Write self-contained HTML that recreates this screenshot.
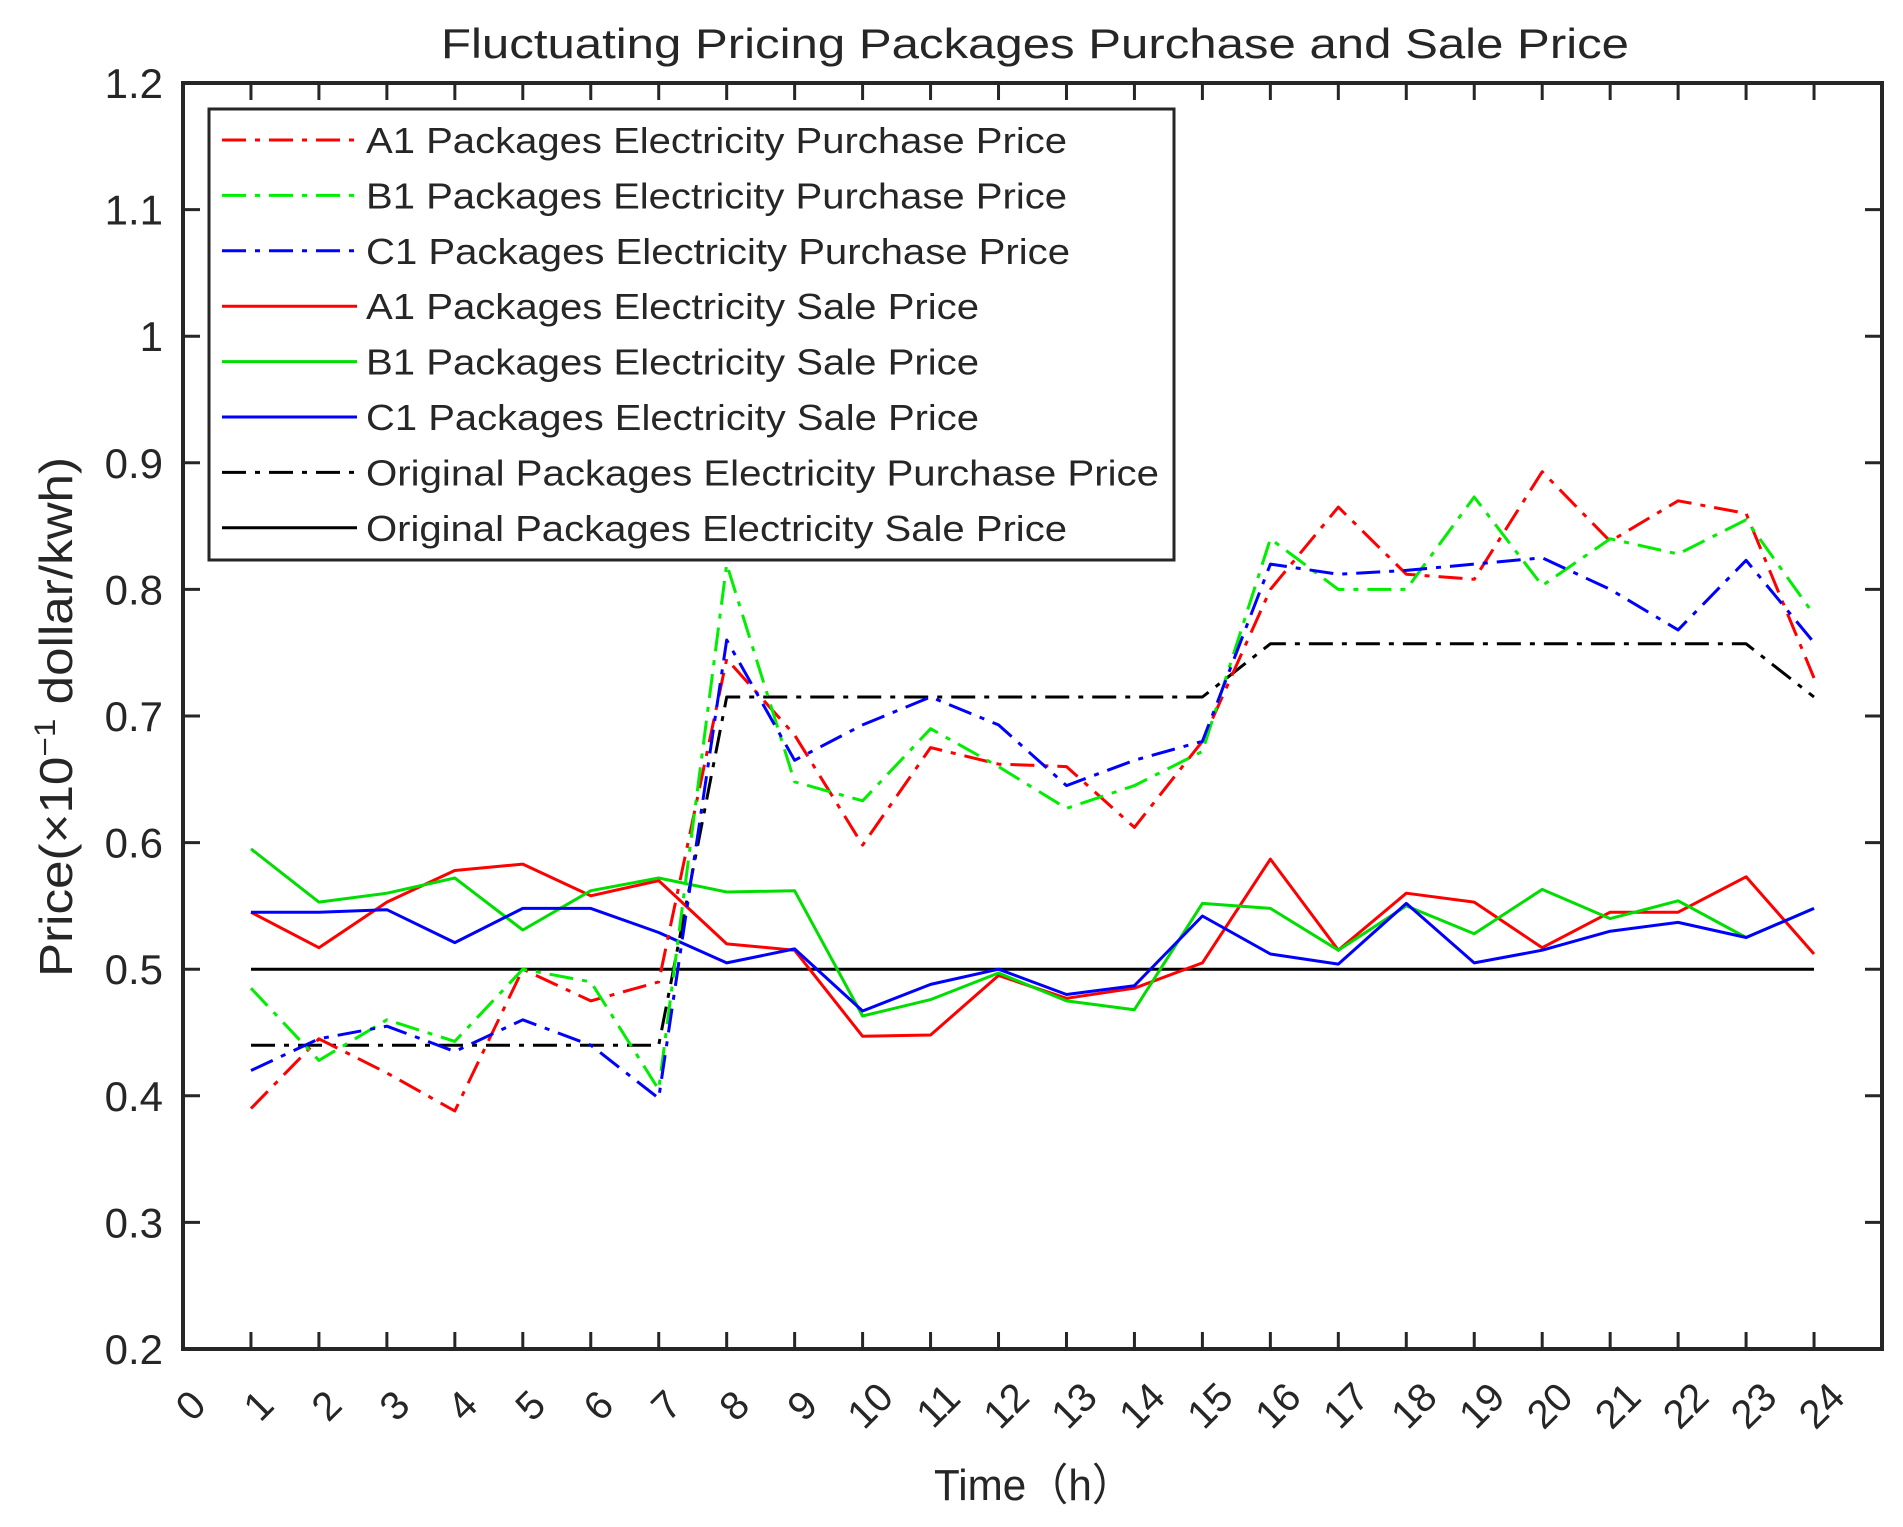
<!DOCTYPE html>
<html><head><meta charset="utf-8">
<style>
html,body{margin:0;padding:0;background:#fff;}
svg{display:block;}
text{font-family:"Liberation Sans","Noto Sans CJK SC",sans-serif;fill:#262626;}
</style></head>
<body>
<svg id="s" width="1903" height="1527" viewBox="0 0 1903 1527" xmlns="http://www.w3.org/2000/svg">
<rect width="1903" height="1527" fill="#fff"/>
<text x="1035" y="58" font-size="42" text-anchor="middle" textLength="1188" lengthAdjust="spacingAndGlyphs">Fluctuating Pricing Packages Purchase and Sale Price</text>
<g id="plot"></g>
<rect x="183" y="83" width="1699" height="1266" fill="none" stroke="#262626" stroke-width="4"/>
<text transform="translate(72,717) rotate(-90)" font-size="46" text-anchor="middle" textLength="520" lengthAdjust="spacingAndGlyphs">Price(×10<tspan font-size="30" dy="-17">−1</tspan><tspan dy="17"> dollar/kwh)</tspan></text>
<text x="1034" y="1500" font-size="44" text-anchor="middle" textLength="200" lengthAdjust="spacingAndGlyphs">Time（h）</text>
<g id="leg"></g>
</svg>
<script>
const NS="http://www.w3.org/2000/svg";
const L=183,R=1882,T=83,B=1349;
const X=h=>L+h*(R-L)/25, Y=v=>B-(v-0.2)*(B-T)/1.0;
function el(tag,attrs,parent,txt){const e=document.createElementNS(NS,tag);for(const k in attrs)e.setAttribute(k,attrs[k]);if(txt!==undefined)e.textContent=txt;parent.appendChild(e);return e;}
const plot=document.getElementById('plot');
for(let h=0;h<=24;h++){
  const x=X(h);
  el('line',{x1:x,x2:x,y1:B,y2:B-17,stroke:'#262626','stroke-width':3},plot);
  el('line',{x1:x,x2:x,y1:T,y2:T+17,stroke:'#262626','stroke-width':3},plot);
  const cx=x+8,cy=1406;
  el('text',{x:cx,y:cy,'font-size':40,'text-anchor':'middle','dominant-baseline':'central',transform:`rotate(-45 ${cx} ${cy})`},plot,String(h));
}
for(let i=0;i<=10;i++){
  const v=0.2+i*0.1,y=Y(v);
  el('line',{x1:L,x2:L+17,y1:y,y2:y,stroke:'#262626','stroke-width':3},plot);
  el('line',{x1:R,x2:R-17,y1:y,y2:y,stroke:'#262626','stroke-width':3},plot);
  let lab=(Math.round(v*10)/10).toString();
  el('text',{x:163,y:y+15,'font-size':42,'text-anchor':'end'},plot,lab);
}
const DD='24,9,5,9';
const series=[
 {c:'#ff0000',d:DD,v:[0.39,0.445,0.418,0.388,0.50,0.475,0.49,0.745,0.685,0.598,0.675,0.662,0.66,0.612,0.68,0.80,0.865,0.812,0.808,0.893,0.838,0.87,0.86,0.73]},
 {c:'#00ee00',d:DD,v:[0.485,0.428,0.46,0.443,0.50,0.49,0.405,0.82,0.648,0.633,0.69,0.66,0.627,0.645,0.672,0.84,0.80,0.80,0.873,0.803,0.84,0.828,0.855,0.78]},
 {c:'#0000ff',d:DD,v:[0.42,0.445,0.455,0.435,0.46,0.44,0.398,0.76,0.665,0.693,0.715,0.693,0.645,0.665,0.68,0.82,0.812,0.815,0.82,0.825,0.80,0.768,0.823,0.758]},
 {c:'#ff0000',d:'',v:[0.545,0.517,0.553,0.578,0.583,0.558,0.57,0.52,0.515,0.447,0.448,0.495,0.477,0.485,0.505,0.587,0.515,0.56,0.553,0.517,0.545,0.545,0.573,0.512]},
 {c:'#00dd00',d:'',v:[0.595,0.553,0.56,0.572,0.531,0.562,0.572,0.561,0.562,0.463,0.476,0.497,0.475,0.468,0.552,0.548,0.515,0.55,0.528,0.563,0.54,0.554,0.525,0.548]},
 {c:'#0000ff',d:'',v:[0.545,0.545,0.547,0.521,0.548,0.548,0.529,0.505,0.516,0.467,0.488,0.50,0.48,0.487,0.542,0.512,0.504,0.552,0.505,0.515,0.53,0.537,0.525,0.548]},
 {c:'#000000',d:DD,v:[0.44,0.44,0.44,0.44,0.44,0.44,0.44,0.715,0.715,0.715,0.715,0.715,0.715,0.715,0.715,0.757,0.757,0.757,0.757,0.757,0.757,0.757,0.757,0.715]},
 {c:'#000000',d:'',v:Array(24).fill(0.5)}
];
const order=[7,6,3,4,5,0,1,2];
for(const i of order){const s=series[i];
  const pts=s.v.map((v,k)=>X(k+1).toFixed(1)+','+Y(v).toFixed(1)).join(' ');
  const a={points:pts,fill:'none',stroke:s.c,'stroke-width':3,'stroke-linejoin':'round'};
  if(s.d)a['stroke-dasharray']=s.d;
  el('polyline',a,plot);
}
const leg=document.getElementById('leg');
el('rect',{x:209,y:109,width:965,height:451,fill:'#fff',stroke:'#262626','stroke-width':3},leg);
const names=['A1 Packages Electricity Purchase Price','B1 Packages Electricity Purchase Price','C1 Packages Electricity Purchase Price','A1 Packages Electricity Sale Price','B1 Packages Electricity Sale Price','C1 Packages Electricity Sale Price','Original Packages Electricity Purchase Price','Original Packages Electricity Sale Price'];
const cols=['#ff0000','#00ee00','#0000ff','#ff0000','#00dd00','#0000ff','#000000','#000000'];
const widths=[701,701,704,613,613,613,793,701];
for(let i=0;i<8;i++){
  const y=140+i*55.4;
  const a={x1:222,x2:357,y1:y,y2:y,stroke:cols[i],'stroke-width':3};
  if(i<3||i==6)a['stroke-dasharray']=DD;
  el('line',a,leg);
  el('text',{x:366,y:y+13,'font-size':36,fill:'#111',textLength:widths[i],lengthAdjust:'spacingAndGlyphs'},leg,names[i]);
}
</script>
</body></html>
